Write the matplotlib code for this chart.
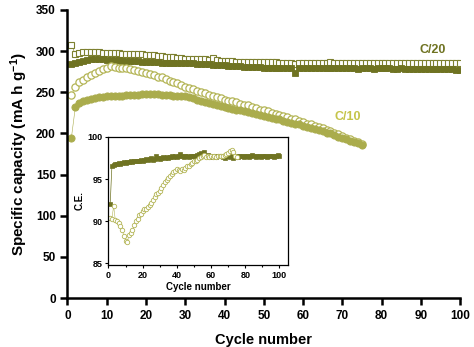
import numpy as np
import matplotlib
matplotlib.use("Agg")
import matplotlib.pyplot as plt

plt.rcParams['font.family'] = ['Liberation Sans', 'DejaVu Sans']
plt.rcParams['font.weight'] = 'bold'
plt.rcParams['mathtext.fontset'] = 'custom'
plt.rcParams['mathtext.bf'] = 'Liberation Sans:bold'
plt.rcParams['mathtext.rm'] = 'Liberation Sans:bold'
plt.rcParams['mathtext.default'] = 'bf'

# --- main plot data: specific capacity (mA h g-1) vs cycle ---
c20_charge = [308, 296, 298, 299, 299, 299, 299, 299, 298, 298,
              298, 298, 298, 297, 297, 297, 296, 296, 296, 295,
              295, 295, 294, 294, 293, 293, 293, 292, 292, 291,
              291, 291, 290, 290, 290, 289, 292, 289, 288, 288,
              288, 288, 287, 287, 287, 287, 287, 287, 287, 287,
              287, 287, 287, 286, 286, 286, 286, 284, 286, 286,
              286, 286, 286, 286, 286, 286, 287, 286, 286, 286,
              286, 286, 286, 285, 286, 286, 286, 285, 286, 286,
              286, 285, 285, 285, 285, 285, 285, 286, 285, 285,
              285, 285, 285, 285, 285, 285, 285, 285, 285, 285]
c20_discharge = [284, 285, 287, 288, 289, 290, 290, 290, 290, 289,
                 289, 289, 289, 288, 288, 288, 288, 288, 287, 287,
                 287, 287, 287, 286, 286, 286, 286, 286, 285, 285,
                 285, 285, 284, 284, 284, 284, 283, 283, 283, 283,
                 282, 282, 282, 282, 281, 281, 281, 281, 281, 280,
                 280, 280, 280, 280, 280, 279, 279, 273, 279, 279,
                 279, 279, 279, 279, 279, 279, 279, 279, 279, 279,
                 279, 279, 279, 278, 279, 279, 279, 278, 279, 279,
                 279, 279, 278, 278, 279, 278, 278, 278, 278, 278,
                 278, 278, 278, 278, 278, 278, 278, 278, 277, 277]
c10_charge = [247, 256, 263, 265, 268, 271, 273, 276, 278, 280,
              282, 281, 280, 280, 279, 278, 277, 276, 275, 274,
              272, 271, 269, 268, 266, 264, 262, 261, 259, 257,
              255, 254, 252, 250, 249, 247, 246, 244, 243, 241,
              240, 239, 238, 236, 235, 234, 232, 231, 229, 228,
              227, 225, 224, 222, 221, 220, 218, 217, 215, 214,
              212, 211, 209, 208, 206, 204, 203, 201, 199, 197,
              195, 193, 191, 189, 187]
c10_discharge = [195, 232, 237, 240, 241, 242, 243, 244, 244, 245,
                 245, 246, 246, 246, 247, 247, 247, 247, 248, 248,
                 248, 248, 248, 247, 247, 247, 246, 246, 245, 245,
                 244, 243, 241, 240, 238, 237, 236, 234, 233, 232,
                 231, 230, 229, 228, 227, 226, 225, 224, 222, 221,
                 220, 219, 218, 217, 215, 214, 213, 212, 211, 209,
                 208, 207, 205, 204, 203, 201, 200, 198, 196, 194,
                 193, 191, 189, 188, 186]

# --- inset data: coulombic efficiency (%) ---
ce_c20 = [92.1, 96.6, 96.7, 96.8, 96.8, 96.9, 96.8, 96.9, 97.0, 96.9,
          97.0, 97.0, 97.1, 97.0, 97.1, 97.2, 97.1, 97.2, 97.3, 97.2,
          97.3, 97.4, 97.3, 97.4, 97.5, 97.3, 97.4, 97.7, 97.5, 97.4,
          97.5, 97.6, 97.5, 97.6, 97.5, 97.6, 97.7, 97.6, 97.7, 97.6,
          97.7, 98.0, 97.7, 97.6, 97.8, 97.7, 97.6, 97.8, 97.7, 97.8,
          97.8, 97.9, 98.0, 98.1, 97.9, 98.2, 97.8, 97.9, 97.7, 97.6,
          97.7, 97.8, 97.6, 97.7, 97.8, 97.7, 97.6, 97.5, 97.7, 97.8,
          97.6, 97.7, 97.5, 97.7, 97.8, 97.6, 97.7, 97.8, 97.6, 97.7,
          97.8, 97.6, 97.7, 97.9, 97.7, 97.6, 97.8, 97.7, 97.6, 97.7,
          97.8, 97.7, 97.6, 97.7, 97.8, 97.7, 97.6, 97.7, 97.9, 97.8]
ce_c10 = [90.4, 90.3, 91.8, 90.1, 90.0, 89.8, 89.4, 88.9, 88.3, 87.7,
          87.5, 88.4, 88.6, 88.9, 89.6, 90.0, 90.3, 90.7, 90.9, 91.2,
          91.4, 91.5, 91.7, 91.9, 92.2, 92.5, 92.9, 93.2, 93.4, 93.6,
          94.0, 94.3, 94.6, 94.9, 95.1, 95.4, 95.6, 95.8, 96.0, 96.2,
          96.1, 96.0, 96.2, 96.1, 96.3, 96.5, 96.6, 96.8, 96.9, 97.1,
          97.2, 97.3, 97.5, 97.6, 97.7, 97.9, 97.6, 97.7, 97.6, 97.7,
          97.6, 97.7, 97.6, 97.7, 97.8, 97.7, 97.8, 97.9, 98.0, 98.1,
          98.3, 98.5, 98.2, 97.8, 97.6]

cyc20 = np.arange(1, len(c20_charge) + 1)
cyc10 = np.arange(1, len(c10_charge) + 1)

dark = '#6f7322'
dark_open = '#7d8030'
light = '#aaac4c'
light_open = '#b4b556'
text10 = '#c5c44a'

fig = plt.figure(figsize=(4.74, 3.47), dpi=100)
ax = fig.add_axes([0.1424, 0.1412, 0.8281, 0.8300])

ax.plot(cyc20, c20_charge, marker='s', ms=4.6, mfc='white', mec=dark_open, mew=0.8,
        color=dark_open, lw=0.4)
ax.plot(cyc20, c20_discharge, marker='s', ms=4.6, mfc=dark, mec=dark, mew=0.6,
        color=dark, lw=0.4)
ax.plot(cyc10, c10_charge, marker='o', ms=5.2, mfc='white', mec=light_open, mew=0.9,
        color=light_open, lw=0.4)
ax.plot(cyc10, c10_discharge, marker='o', ms=5.2, mfc=light, mec=light, mew=0.6,
        color=light, lw=0.4)

ax.text(93.1, 301, 'C/20', color=dark, fontsize=9, fontweight='bold',
        ha='center', va='center')
ax.text(71.5, 220, 'C/10', color=text10, fontsize=9, fontweight='bold',
        ha='center', va='center')

ax.set_xlim(0, 100)
ax.set_ylim(0, 350)
ax.set_xticks(np.arange(0, 101, 10))
ax.set_yticks(np.arange(0, 351, 50))
for s in ['top', 'right']:
    ax.spines[s].set_visible(False)
for s in ['left', 'bottom']:
    ax.spines[s].set_linewidth(1.8)
ax.tick_params(direction='out', length=5, width=1.8, labelsize=8.5)
ax.set_xlabel('Cycle number', fontsize=10.5, fontweight='bold', labelpad=8)
ax.set_ylabel('Specific capacity (mA h g$^{-1}$)', fontsize=11, fontweight='bold',
              labelpad=4)

# --- inset ---
ins = fig.add_axes([0.2289, 0.2363, 0.3787, 0.3689])
ins.plot(cyc20, ce_c20, marker='s', ms=3.5, mfc=dark, mec=dark, mew=0.5,
         color=dark, lw=0.5)
ins.plot(cyc10, ce_c10, marker='o', ms=3.2, mfc='white', mec=light_open, mew=0.6,
         color=light_open, lw=0.4)
ins.set_xlim(0, 105)
ins.set_ylim(84.8, 100)
ins.set_xticks(np.arange(0, 101, 20))
ins.set_xticks(np.arange(10, 101, 20), minor=True)
ins.set_yticks([85, 90, 95, 100])
for s in ins.spines.values():
    s.set_linewidth(0.9)
ins.tick_params(which='both', direction='out', length=2.5, width=0.8, labelsize=6.5, pad=1.5)
ins.tick_params(which='minor', length=1.5)
ins.set_xlabel('Cycle number', fontsize=7, fontweight='bold', labelpad=2)
ins.set_ylabel('C.E.', fontsize=7, fontweight='bold', labelpad=2)

fig.savefig('out.png', dpi=100)
